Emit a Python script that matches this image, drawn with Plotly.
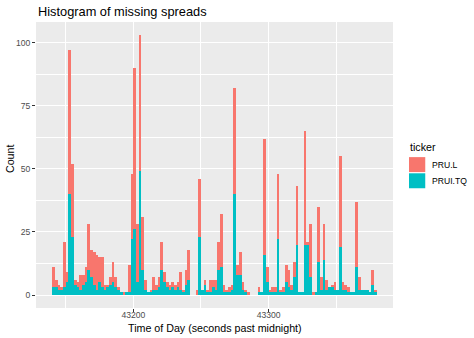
import plotly.graph_objects as go

# ---- data ----
bin_start = 43140      # left edge of first bin (seconds past midnight)
bin_width = 2          # seconds per bin

total_counts = [
    11, 6, 4, 3, 21, 9, 97, 52, 6, 5,
    8, 8, 11, 28, 18, 17, 16, 15, 15, 4,
    4, 7, 13, 7, 3, 1, 1, 1, 12, 48,
    90, 28, 103, 31, 6, 1, 2, 7, 4, 7,
    21, 9, 5, 4, 5, 4, 5, 9, 2, 10,
    18, 0, 0, 2, 46, 2, 6, 2, 6, 6,
    6, 21, 32, 4, 2, 3, 4, 82, 12, 17,
    5, 2, 1, 0, 0, 0, 3, 1, 62, 11,
    2, 3, 3, 48, 2, 3, 12, 10, 4, 13,
    43, 1, 1, 65, 21, 28, 1, 1, 35, 7,
    28, 6, 3, 4, 5, 2, 55, 5, 4, 3,
    1, 1, 37, 7, 2, 2, 2, 1, 10, 2,
]
prui_tq = [
    3, 3, 2, 2, 3, 5, 40, 23, 4, 3,
    2, 4, 5, 10, 7, 4, 2, 5, 3, 2,
    3, 4, 5, 3, 2, 1, 0, 1, 1, 22,
    26, 5, 49, 10, 2, 1, 1, 2, 2, 3,
    10, 5, 3, 2, 3, 2, 3, 2, 1, 4,
    6, 0, 0, 0, 23, 2, 4, 1, 1, 3,
    2, 10, 11, 1, 1, 1, 2, 40, 8, 8,
    2, 1, 0, 0, 0, 0, 1, 1, 16, 5,
    1, 1, 1, 22, 1, 1, 5, 3, 2, 7,
    20, 1, 1, 20, 20, 7, 0, 1, 13, 2,
    14, 2, 3, 3, 2, 2, 19, 2, 2, 1,
    1, 1, 11, 2, 2, 2, 2, 1, 4, 1,
]
pru_l = [t - q for t, q in zip(total_counts, prui_tq)]

tickers = ["PRU.L", "PRUI.TQ"]
colors = {"PRU.L": "#F8766D", "PRUI.TQ": "#00BFC4"}

x_ticks = [43200, 43300]
x_minor = [43150, 43250, 43350]
y_ticks = [0, 25, 50, 75, 100]
y_minor = [12.5, 37.5, 62.5, 87.5]

centers = [bin_start + bin_width * (i + 0.5) for i in range(len(total_counts))]

FONT = "Liberation Sans, Arial, Helvetica, sans-serif"

fig = go.Figure()
# bottom of stack: PRUI.TQ, top: PRU.L (as ggplot)
fig.add_trace(go.Bar(x=centers, y=prui_tq, width=bin_width, name="PRUI.TQ",
                     marker=dict(color=colors["PRUI.TQ"], line=dict(width=0)),
                     showlegend=False))
fig.add_trace(go.Bar(x=centers, y=pru_l, width=bin_width, name="PRU.L",
                     marker=dict(color=colors["PRU.L"], line=dict(width=0)),
                     showlegend=False))

# plot area geometry (px)
L, R, T, B = 36, 393.5, 21.7, 308.3
W, H = 474, 338
pw, ph = R - L, B - T

def px(x):
    return (x - L) / pw

def py(y):
    return (B - y) / ph

fig.update_layout(
    width=W, height=H,
    margin=dict(l=L, r=W - R, t=T, b=H - B, pad=0),
    barmode="stack", bargap=0,
    plot_bgcolor="#EBEBEB", paper_bgcolor="white",
    font=dict(family=FONT, color="#000000"),
    showlegend=False,
)
fig.update_xaxes(
    range=[43128, 43392], tickvals=x_ticks, ticktext=[str(v) for v in x_ticks],
    showgrid=True, gridcolor="white", gridwidth=1.1, zeroline=False,
    ticks="outside", ticklen=3, tickwidth=1, tickcolor="#333333",
    ticklabelstandoff=-4,
    tickfont=dict(size=8.6, color="#4D4D4D", family=FONT),
    minor=dict(tickvals=x_minor, showgrid=True, gridcolor="white", gridwidth=0.55, ticks=""),
    showline=False,
)
fig.update_yaxes(
    range=[-5.15, 108.15], tickvals=y_ticks,
    showgrid=True, gridcolor="white", gridwidth=1.1, zeroline=False,
    ticks="outside", ticklen=3, tickwidth=1, tickcolor="#333333",
    tickfont=dict(size=8.6, color="#4D4D4D", family=FONT),
    minor=dict(tickvals=y_minor, showgrid=True, gridcolor="white", gridwidth=0.55, ticks=""),
    showline=False,
)

ann = []
ann.append(dict(text="Histogram of missing spreads", x=px(36), y=py(11.5), xref="paper", yref="paper",
                xanchor="left", yanchor="middle", showarrow=False,
                font=dict(size=12.8, family=FONT, color="#000000")))
ann.append(dict(text="Time of Day (seconds past midnight)", x=0.5, y=py(328), xref="paper", yref="paper",
                xanchor="center", yanchor="middle", showarrow=False,
                font=dict(size=10.7, family=FONT, color="#000000")))
ann.append(dict(text="Count", x=px(10), y=py(159), xref="paper", yref="paper", textangle=-90,
                xanchor="center", yanchor="middle", showarrow=False,
                font=dict(size=10.7, family=FONT, color="#000000")))
# legend
ann.append(dict(text="ticker", x=px(409), y=py(146.5), xref="paper", yref="paper",
                xanchor="left", yanchor="middle", showarrow=False,
                font=dict(size=10.7, family=FONT, color="#000000")))
shapes = []
key_top = 156.5
key_h = 16.2
for i, name in enumerate(tickers):
    y0 = key_top + i * key_h
    shapes.append(dict(type="rect", xref="paper", yref="paper",
                       x0=px(409.5), x1=px(425.8), y0=py(y0 + 0.6), y1=py(y0 + key_h - 0.6),
                       fillcolor=colors[name], line=dict(width=0)))
    ann.append(dict(text=name, x=px(430.3), y=py(y0 + key_h / 2), xref="paper", yref="paper",
                    xanchor="left", yanchor="middle", showarrow=False,
                    font=dict(size=8.6, family=FONT, color="#000000")))

fig.update_layout(annotations=ann, shapes=shapes)
fig.write_html("out.html")
